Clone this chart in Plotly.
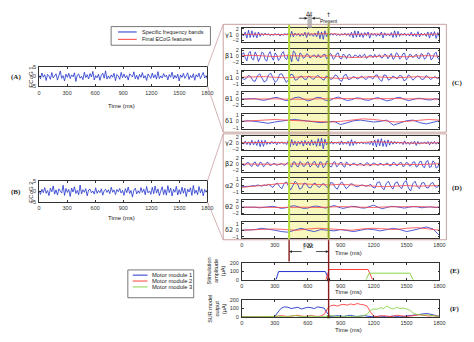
import numpy as np
import plotly.graph_objects as go

W, H = 474, 342
T_END = 1800
TIME_TICKS = [0, 300, 600, 900, 1200, 1500, 1800]

# ---------------- raw ECoG channels (uV) ----------------
ecog1 = [0.5,-1.2,1.8,-0.4,0.9,-2.1,1.1,0.3,-1.5,2.0,-0.8,0.6,1.4,-1.9,0.2,2.8,-1.0,0.4,-2.3,1.2,
         -0.5,1.6,-1.1,0.8,-0.2,1.9,-2.6,0.7,1.3,-0.9,0.1,-1.7,2.2,-0.6,0.9,-1.3,1.5,-0.3,2.6,-1.8,
         0.4,-0.7,1.2,-2.0,0.6,1.7,-0.9,2.9,-1.4,0.3,-1.1,0.8,-0.4,1.6,-2.2,1.0,0.2,-1.5,2.1,-0.6,
         1.3,-0.8,0.5,-1.9,1.4,0.7,-0.3,2.4,-1.2,0.6,-1.6,1.1,-0.5,2.0,-0.9,0.4,-2.1,1.3,0.2,-1.0,
         1.8,-0.7,0.9,-1.4,2.5,-1.1,0.3,-0.8,1.5,-0.2,0.7,-1.8,1.0,-0.4,2.2,-1.3,0.6,-0.9,1.2,-2.4,
         0.8,-0.5,1.6,-1.0,0.3,1.9,-1.6,0.5,-0.7,1.4,-2.0,0.9,-0.3,1.7,-1.2,0.6,2.1,-0.8,0.4,-1.5]
ecog2 = [0.3,-1.4,1.0,-0.6,1.8,-0.9,0.4,-2.0,1.5,-0.2,2.6,-1.3,0.7,-1.7,1.2,0.1,-0.8,2.9,-1.9,1.4,
         -0.5,0.9,-2.4,1.6,-0.3,2.2,-1.0,0.5,-1.6,3.0,-1.2,0.8,-0.4,1.3,-2.1,0.6,1.1,-0.7,0.2,-1.3,
         1.7,-0.9,0.4,-0.6,1.2,-1.8,0.3,1.0,-0.5,0.8,-1.1,2.0,-0.4,0.7,-1.5,0.9,-0.2,1.4,-0.8,0.5,
         -1.9,1.3,-0.6,2.1,-1.0,0.4,-2.7,0.6,1.5,-1.2,0.3,-0.9,1.8,-0.5,1.1,-1.6,2.3,-0.7,0.2,-1.4,
         1.9,-1.1,2.5,-0.8,1.2,-2.0,0.7,2.2,-1.5,0.9,-1.8,2.7,-0.6,1.6,-2.2,1.0,-0.4,2.4,-1.7,0.8,
         -1.3,2.0,-0.9,1.5,-2.5,1.1,-0.3,1.7,-1.9,2.8,-1.0,0.6,-1.6,2.3,-0.7,1.2,-2.1,0.9,-0.4,1.0]

# ---------------- channel 1 frequency bands ----------------
gamma1 = [0.3,-0.5,0.8,-1.2,1.5,-1.0,1.3,-0.9,0.7,-1.1, 0.9,-0.6,0.4,-0.3,0.5,-0.2,0.3,-0.4,0.2,-0.3,
          0.4,-0.2,0.3,-0.5,0.2,-0.3,0.4,-0.2,0.6,-0.9, 1.1,-0.8,0.5,-0.3,0.4,-0.6,0.3,-0.5,0.8,-1.0,
          0.7,-0.4,0.3,-0.6,0.5,-0.8,1.2,-1.4,0.9,-1.6, 1.3,-0.7,0.4,-0.2,0.3,-0.2,0.4,-0.3,0.2,-0.4,
          0.3,-0.2,0.5,-0.3,0.4,-0.6,0.8,-1.1,1.3,-0.9, 1.2,-0.8,0.6,-1.0,0.7,-0.4,0.9,-1.2,0.5,-0.3,
          0.4,-0.6,0.3,-0.5,0.9,-1.1,0.6,-0.4,0.3,-0.5, 0.7,-1.0,1.3,-0.9,1.1,-0.6,0.4,-0.3,0.5,-0.4,
          0.3,-0.5,0.8,-0.6,0.4,-0.7,1.0,-0.8,0.5,-0.3, 0.4,-0.6,0.9,-1.2,0.8,-0.5,1.0,-1.3,0.7,-0.9]
beta1 = [0.5,1.2,-0.4,-1.5,0.9,1.6,-0.8,-1.2,1.4,0.3, -1.7,-0.5,1.3,1.0,-1.1,-1.6,0.6,1.5,-0.3,-1.3,
         1.1,0.4,-1.4,-0.7,0.9,1.5,-0.6,-1.1,0.8,0.2, -1.8,1.7,1.2,-0.9,-1.6,1.1,0.6,-0.7,-0.3,0.8,
         0.5,-0.6,-0.2,0.4,0.3,-0.5,0.6,-0.4,-0.3,0.5, 0.7,-0.8,-0.4,0.9,0.6,-1.0,-0.5,0.8,1.1,-0.6,
         -0.9,0.7,0.3,-0.8,0.4,0.6,-0.5,-0.3,0.4,0.2, -0.3,0.5,-0.4,0.3,0.6,-0.7,-0.2,0.4,0.3,-0.5,
         0.6,-0.4,0.2,0.5,-0.6,-0.3,0.7,0.4,-0.8,0.3, 0.9,-1.0,-0.6,1.1,0.7,-0.9,-0.4,0.8,1.0,-1.2,
         -0.7,0.6,0.4,-0.5,0.3,0.7,-0.6,-0.8,0.9,0.5, -1.0,-0.4,1.1,0.8,-1.2,-0.6,0.9,1.3,-0.7,-1.1]
alpha1 = [0.0,-0.3,-0.1,0.4,0.2,-0.5,-0.6,0.3,0.7,0.1, -0.7,-0.5,0.5,0.8,0.0,-0.8,-0.4,0.6,0.7,-0.2,
          -0.8,-0.3,0.6,0.5,-0.4,-0.3,0.2,0.3,-0.2,-0.3, 0.3,0.1,-0.3,0.0,0.4,0.2,-0.2,-0.4,0.3,0.2,
          -0.3,-0.1,0.5,0.3,-0.4,-0.6,0.4,0.6,-0.3,-0.2, 0.2,0.1,-0.2,0.0,0.3,-0.1,-0.3,0.2,0.1,-0.2,
          0.4,0.5,-0.3,-0.6,0.5,0.4,-0.4,-0.2,0.3,0.1, -0.2,0.4,0.3,-0.5,-0.3,0.5,0.2,-0.4,-0.1,0.3,
          0.2,-0.3,-0.2,0.4,0.1,-0.3,0.0,0.2,-0.1,0.0]
theta1 = [0.0,0.1,0.3,0.2,-0.2,-0.4,-0.1,0.4,0.6,0.1,-0.5,-0.3,0.5,0.7,0.0,-0.6,-0.2,0.6,0.5,-0.4,
          -0.5,0.3,0.7,0.0,-0.5,-0.2,0.4,0.3,-0.3,-0.4,0.2,0.5,0.0,-0.6,-0.3,0.4,0.6,-0.1,-0.5,0.0,
          0.3,0.2,-0.2,-0.3,0.1,0.0]
delta1 = [0.0,0.1,0.0,-0.1,-0.3,-0.1,0.1,0.2,0.3,0.2,0.1,-0.1,-0.2,-0.1,0.0,-0.5,
          -0.2,0.1,0.2,0.1,-0.1,0.0,0.2,-0.6,-0.3,0.1,0.2,-0.2,-0.4,-0.1,0.1]

gamma1_feat = [0.1,0.2,0.1,0.0,0.1,0.2,0.1,0.2,0.3,0.1,0.0,0.1,0.2,0.1,0.2,0.1,0.0,0.1,0.2]
beta1_feat = [0.2,0.3,0.1,-0.1,0.2,0.1,-0.1,0.0,0.2,-0.2,-0.4,-0.3,-0.1,0.1,0.0,-0.2,0.1,0.2,0.0]
alpha1_feat = [0.1,0.2,0.2,0.1,0.0,0.1,0.2,0.1,0.0,-0.1,0.0,0.1,0.2,0.1,0.0,0.1,0.2,0.1,0.0]
theta1_feat = [0.0,0.1,0.2,0.1,0.0,-0.1,0.0,0.1,0.2,0.3,0.2,0.1,0.2,0.3,0.2,0.1,0.2,0.1,0.0]
delta1_feat = [0.0,0.1,0.2,0.3,0.2,0.1,0.1,0.0,-0.1,0.0,0.2,0.4,0.3,0.1,-0.1,0.0,0.2,0.3,0.2]

# ---------------- channel 2 frequency bands ----------------
gamma2 = [0.3,-0.4,0.6,-0.5,0.4,-0.7,0.9,-0.6,0.5,-0.8, 1.0,-1.2,0.8,-1.1,0.9,-0.5,0.3,-0.4,0.5,-0.3,
          0.4,-0.6,0.3,-0.2,0.4,-0.3,0.2,-0.5,0.9,-1.3, 1.1,-0.7,0.6,-0.9,0.5,-0.4,0.7,-1.0,0.8,-0.6,
          0.5,-0.8,1.0,-0.7,0.6,-1.1,1.4,-1.0,1.6,-1.9, 1.2,-0.6,0.4,-0.3,0.5,-0.4,0.3,-0.2,0.4,-0.6,
          0.7,-0.5,0.3,-0.4,0.6,-0.9,1.1,-0.8,0.6,-0.4, 0.3,-0.2,0.4,-0.3,0.2,-0.4,0.3,-0.5,0.6,-0.8,
          1.0,-1.3,1.2,-0.9,1.4,-1.1,0.8,-1.2,1.0,-0.7, 0.6,-0.4,0.5,-0.3,0.4,-0.2,0.3,-0.5,0.7,-0.4,
          0.3,-0.5,0.4,-0.3,0.6,-0.8,0.5,-0.4,0.3,-0.2, 0.4,-0.3,0.5,-0.6,0.4,-0.3,0.5,-0.4,0.3,-0.2]
beta2 = [0.3,-0.4,-0.2,0.5,0.6,-0.3,-0.7,0.4,0.8,-0.5, -0.6,0.7,0.4,-0.8,-0.3,0.6,0.5,-0.4,-0.2,0.3,
         0.2,-0.3,-0.1,0.2,0.3,-0.2,-0.3,0.4,0.6,-0.5, -0.9,0.8,0.7,-0.6,-0.8,0.9,0.4,-0.7,-0.5,0.6,
         0.8,-0.9,-0.4,0.7,0.9,-0.6,-1.0,0.8,0.6,-1.1, -0.5,0.9,1.0,-0.7,-0.8,0.6,0.9,-0.8,-0.4,0.5,
         0.7,-0.6,-0.9,0.8,0.3,-0.5,-0.2,0.4,0.3,-0.3, -0.2,0.3,0.2,-0.4,-0.3,0.5,0.4,-0.5,-0.3,0.4,
         0.3,-0.2,-0.4,0.3,0.2,-0.3,-0.2,0.4,0.3,-0.5, -0.4,0.6,0.5,-0.4,-0.3,0.5,0.6,-0.7,-0.5,0.6,
         0.4,-0.6,-0.3,0.7,0.8,-0.9,-0.6,0.8,1.0,-0.7, -1.1,0.9,1.2,-1.0,-0.8,1.1,0.7,-1.2,-0.9,0.8]
alpha2 = [-0.2,-0.2,-0.1,-0.2,-0.1,0.0,-0.1,0.1,0.0,-0.1, 0.1,0.0,0.2,-0.1,-0.3,0.2,0.4,-0.2,-0.5,0.3,
          0.6,-0.1,-0.7,0.0,0.7,0.3,-0.6,-0.4,0.4,0.3, -0.3,-0.4,0.2,0.4,-0.1,-0.3,0.2,0.3,-0.2,-0.4,
          0.5,0.4,-0.3,-0.6,0.2,0.6,0.1,-0.5,-0.2,0.3, 0.2,-0.1,-0.2,0.0,0.1,0.0,-0.1,0.0,0.2,-0.3,
          -0.4,0.5,0.6,-0.3,-0.7,0.3,0.7,-0.1,-0.6,0.4, 0.6,-0.2,-0.5,0.5,0.8,-0.4,-0.9,0.3,0.7,-0.2,
          -0.5,0.4,0.5,-0.3,-0.4,0.3,0.5,-0.2,-0.3,0.2]
theta2 = [0.0,0.0,0.1,0.0,-0.2,0.0,0.2,0.3,0.0,-0.4,-0.2,0.3,0.5,0.1,-0.4,-0.3,0.2,0.4,0.0,-0.3,
          0.1,0.6,0.0,-0.4,-0.1,0.3,0.2,-0.2,-0.3,0.2,0.7,0.0,-0.5,-0.1,0.3,0.2,-0.1,-0.3,0.0,0.2,
          0.1,-0.2,0.0,0.1,-0.1,0.0]
delta2 = [0.0,0.0,0.1,0.3,0.2,0.0,-0.2,-0.3,0.0,0.3,0.0,-0.2,0.1,0.0,-0.1,0.1,
          0.0,-0.2,0.0,0.2,0.1,-0.1,0.1,0.3,0.1,-0.2,0.0,0.3,0.5,0.2,-0.8]

gamma2_feat = [0.1,0.2,0.1,0.2,0.1,0.0,0.1,0.2,0.1,0.0,0.1,0.2,0.4,0.3,0.1,0.0,-0.1,0.0,0.1]
beta2_feat = [0.1,0.0,-0.1,0.0,0.1,0.2,0.1,0.0,0.2,0.1,-0.1,-0.2,-0.1,0.0,0.1,0.0,-0.1,0.1,0.2]
alpha2_feat = [-0.3,-0.1,0.1,0.3,0.4,0.3,0.2,0.1,0.1,0.2,0.1,0.0,-0.1,-0.2,-0.1,0.0,-0.1,-0.1,0.0]
theta2_feat = [0.0,0.1,0.0,-0.1,0.0,0.1,0.0,-0.1,0.1,0.2,0.1,0.0,-0.1,0.1,0.2,0.3,0.2,0.1,0.0]
delta2_feat = [0.0,0.1,0.2,0.2,0.1,0.0,0.2,0.3,0.2,0.1,0.0,0.2,0.3,0.2,0.1,0.3,0.4,0.2,0.0]

# ---------------- stimulation amplitude per motor module (uA) ----------------
stim1_t = [310, 335, 760, 795]
stim1 = [0, 100, 100, 0]
stim2_t = [765, 795, 1150, 1190]
stim2 = [0, 125, 125, 0]
stim3_t = [1130, 1160, 1530, 1560]
stim3 = [0, 80, 80, 0]

# ---------------- SUR model output per motor module (uA), 30 ms steps ----------------
sur1 = [0,0,0,0,0,0,0,0,0,0,
        5,60,105,120,115,100,110,115,95,105,115,110,100,120,110,105,40,5,10,15,
        10,5,15,20,10,5,10,15,10,5,0,5,10,5,0,5,10,5,0,5,
        10,15,20,25,30,35,40,35,25,15,5]
sur2 = [0,0,0,0,0,0,0,0,0,0,5,10,15,10,5,10,15,20,10,5,10,15,10,5,10,
        30,100,135,140,130,145,150,140,155,145,160,150,145,130,60,10,
        5,10,15,10,5,10,20,15,10,5,10,15,20,25,20,15,10,15,10,5]
sur3 = [0,0,0,0,0,0,0,0,0,0,5,10,5,0,5,10,15,10,5,0,5,10,5,0,0,5,10,15,10,5,0,5,10,5,0,5,10,15,
        30,80,95,90,110,100,130,105,95,115,100,105,95,80,45,30,25,20,25,20,15,10,5]

delta_t_start = 430     # start of the feature window (ms)
present_t = 790         # "present" time (ms)

BAND_NAMES_1 = ["\u03b31", "\u03b21", "\u03b11", "\u03b81", "\u03b41"]
BAND_NAMES_2 = ["\u03b32", "\u03b22", "\u03b12", "\u03b82", "\u03b42"]

BLUE = "#2233cc"
RED = "#ff4040"
GREEN = "#88d448"
FRAME_PINK = "#c9a0a0"
DARK_RED = "#8a1c1c"


def fx(px):
    return px / W


def fy(py):
    return 1 - py / H


def t_axis(values, t_end=T_END):
    return np.linspace(0, t_end, len(values))


AX = dict(showline=True, linecolor="#333", linewidth=0.8, mirror="ticks", ticks="inside",
          ticklen=2, tickwidth=0.7, tickcolor="#333", showgrid=False, zeroline=False,
          tickfont=dict(family="Liberation Sans", size=5.5, color="#333"), fixedrange=True)

fig = go.Figure()
layout = {}
counter = [0]


def add_axes(x0, x1, y0, y1, yr, ytv, xlabels=True):
    counter[0] += 1
    n = counter[0]
    s = "" if n == 1 else str(n)
    layout["xaxis" + s] = dict(AX, domain=[fx(x0), fx(x1)], range=[0, T_END], anchor="y" + s,
                               tickvals=TIME_TICKS, showticklabels=xlabels, ticklabelstandoff=1)
    layout["yaxis" + s] = dict(AX, domain=[fy(y1), fy(y0)], range=yr, anchor="x" + s,
                               tickvals=ytv, ticklabelstandoff=1)
    return "x" + s, "y" + s


def line(xa, ya, x, y, color, width=0.8):
    fig.add_trace(go.Scatter(x=x, y=y, xaxis=xa, yaxis=ya, mode="lines",
                             line=dict(color=color, width=width), showlegend=False,
                             hoverinfo="skip"))


annotations = []
shapes = []


def text(x, y, s, size=6, family="Liberation Sans", angle=0, anchor="center", **kw):
    annotations.append(dict(x=fx(x), y=fy(y), xref="paper", yref="paper", text=s,
                            showarrow=False, textangle=angle, xanchor=anchor, yanchor="middle",
                            font=dict(family=family, size=size, color="#222"), **kw))


# ---- panels A and B: raw ECoG ----
xa, ya = add_axes(37.7, 209, 65, 84.5, [-5, 5], [-5, 0, 5])
line(xa, ya, t_axis(ecog1), ecog1, BLUE)
xb, yb = add_axes(37.7, 209, 181, 202.5, [-5, 5], [-5, 0, 5])
line(xb, yb, t_axis(ecog2), ecog2, BLUE)
text(122, 105, "Time (ms)", 6)
text(122, 219, "Time (ms)", 6)
text(29.5, 75, "ECoG 1", 6, angle=-90)
text(29.5, 192, "ECoG 2", 6, angle=-90)
text(14, 75, "<b>(A)</b>", 7, family="Liberation Serif")
text(14, 192, "<b>(B)</b>", 7, family="Liberation Serif")

# ---- panels C and D: band-filtered signals and features ----
C_ROWS = [(25, 39.3), (46.7, 61.7), (69, 83.3), (90.7, 105), (112.7, 128.3)]
D_ROWS = [(135, 150), (156.7, 171.7), (178.3, 193.3), (200.7, 215), (223.3, 239.3)]
ranges = [([-2.4, 2.4], [-2, 0, 2]), ([-2.4, 2.4], [-2, 0, 2]), ([-1.2, 1.2], [-1, 0, 1]),
          ([-2.4, 2.4], [-2, 0, 2]), ([-1.2, 1.2], [-1, 0, 1])]
bands1 = [(gamma1, gamma1_feat), (beta1, beta1_feat), (alpha1, alpha1_feat),
          (theta1, theta1_feat), (delta1, delta1_feat)]
bands2 = [(gamma2, gamma2_feat), (beta2, beta2_feat), (alpha2, alpha2_feat),
          (theta2, theta2_feat), (delta2, delta2_feat)]

for rows, bands, names in ((C_ROWS, bands1, BAND_NAMES_1), (D_ROWS, bands2, BAND_NAMES_2)):
    for i, ((y0, y1), (sig, feat), name, (yr, tv)) in enumerate(zip(rows, bands, names, ranges)):
        last = rows is D_ROWS and i == 4
        x_, y_ = add_axes(244, 445, y0, y1, yr, tv, xlabels=last)
        line(x_, y_, t_axis(sig), sig, BLUE, 0.8)
        line(x_, y_, t_axis(feat), feat, RED, 0.8)
        text(231, (y0 + y1) / 2, name, 6.5, family="DejaVu Sans")
text(352, 254.5, "Time (ms)", 6)
text(463, 81, "<b>(C)</b>", 7, family="Liberation Serif")
text(463, 188, "<b>(D)</b>", 7, family="Liberation Serif")

# ---- panel E: stimulation amplitude ----
xe, ye = add_axes(244, 445, 265, 281.7, [0, 200], [0, 100, 200])
line(xe, ye, stim1_t, stim1, BLUE, 1)
line(xe, ye, stim2_t, stim2, RED, 1)
line(xe, ye, stim3_t, stim3, GREEN, 1)
fig.add_trace(go.Scatter(x=[present_t], y=[0], xaxis=xe, yaxis=ye, mode="markers",
                         marker=dict(color="#111", size=3, symbol="square"),
                         showlegend=False, hoverinfo="skip", cliponaxis=False))
text(352, 294, "Time (ms)", 6)
text(218, 273, "Stimulation<br>amplitude<br>(\u03bcA)", 5.5, angle=-90)
text(461, 273, "<b>(E)</b>", 7, family="Liberation Serif")

# ---- panel F: SUR model output ----
xf, yf = add_axes(244, 445, 302.5, 319.5, [0, 200], [0, 100, 200])
t_sur = t_axis(sur1)
line(xf, yf, t_sur, sur1, BLUE, 0.9)
line(xf, yf, t_sur, sur2, RED, 0.9)
line(xf, yf, t_sur, sur3, GREEN, 0.9)
fig.add_trace(go.Scatter(x=[present_t], y=[0], xaxis=xf, yaxis=yf, mode="markers",
                         marker=dict(color="#3a8a20", size=3, symbol="square"),
                         showlegend=False, hoverinfo="skip", cliponaxis=False))
text(352, 332.5, "Time (ms)", 6)
text(218, 311, "SUR model<br>output<br>(\u03bcA)", 5.5, angle=-90)
text(461, 311, "<b>(F)</b>", 7, family="Liberation Serif")

# ---- feature window and present marker (data x, paper y) ----
shapes.append(dict(type="rect", xref=xe, yref="paper", x0=delta_t_start, x1=present_t,
                   y0=fy(240), y1=fy(23), fillcolor="rgba(238,238,110,0.45)",
                   line=dict(width=0), layer="below"))
shapes.append(dict(type="line", xref=xe, yref="paper", x0=delta_t_start, x1=delta_t_start,
                   y0=fy(240.5), y1=fy(21.7), line=dict(color="#b4dc3a", width=2)))
shapes.append(dict(type="line", xref=xe, yref="paper", x0=present_t, x1=present_t,
                   y0=fy(240.5), y1=fy(20), line=dict(color="#90aa28", width=2)))
shapes.append(dict(type="line", xref=xe, yref="paper", x0=delta_t_start, x1=delta_t_start,
                   y0=fy(263), y1=fy(240.5), line=dict(color=DARK_RED, width=1.4)))
shapes.append(dict(type="line", xref=xe, yref="paper", x0=present_t, x1=present_t,
                   y0=fy(320), y1=fy(240.5), line=dict(color=DARK_RED, width=1.4)))

# small delta-t sketch above panel C
shapes.append(dict(type="rect", xref=xe, yref="paper", x0=597, x1=638, y0=fy(25), y1=fy(12),
                   fillcolor="#b8b8b8", line=dict(width=0)))
for xt, off in ((597, -10), (638, 10)):
    annotations.append(dict(x=xt, y=fy(15.5), xref=xe, yref="paper", ax=off, ay=0, text="",
                            showarrow=True, arrowhead=2, arrowsize=0.7, arrowwidth=0.8,
                            arrowcolor="#222"))
annotations.append(dict(x=617, y=fy(5.5), xref=xe, yref="paper", text="\u0394t", showarrow=False,
                        font=dict(family="DejaVu Sans", size=6, color="#222")))
annotations.append(dict(x=present_t, y=fy(6), xref=xe, yref="paper", text="\u2191",
                        showarrow=False, font=dict(family="DejaVu Sans", size=6, color="#222")))
annotations.append(dict(x=present_t, y=fy(13), xref=xe, yref="paper", text="Present",
                        showarrow=False, font=dict(family="Liberation Sans", size=5, color="#222")))

# window-length arrow below panel D
for xt, off in ((delta_t_start, 14), (present_t, -14)):
    annotations.append(dict(x=xt, y=fy(253), xref=xe, yref="paper", ax=off, ay=0, text="",
                            showarrow=True, arrowhead=2, arrowsize=0.7, arrowwidth=0.8,
                            arrowcolor="#222"))
annotations.append(dict(x=(delta_t_start + present_t) / 2, y=fy(253), xref=xe, yref="paper",
                        text="| \u0394t", showarrow=False,
                        font=dict(family="DejaVu Sans", size=6, color="#222")))

# ---- zoom frames and connector lines ----
shapes.append(dict(type="rect", xref="paper", yref="paper", x0=fx(225), x1=fx(452),
                   y0=fy(131.5), y1=fy(21.7), line=dict(color=FRAME_PINK, width=1)))
shapes.append(dict(type="rect", xref="paper", yref="paper", x0=fx(225), x1=fx(452),
                   y0=fy(241), y1=fy(133.2), line=dict(color=FRAME_PINK, width=1)))
for (x0, y0, x1, y1) in ((209, 65, 225, 21.7), (209, 84.5, 225, 131.5),
                         (209, 181, 225, 133.2), (209, 202.5, 225, 241)):
    shapes.append(dict(type="line", xref="paper", yref="paper", x0=fx(x0), y0=fy(y0),
                       x1=fx(x1), y1=fy(y1), line=dict(color=FRAME_PINK, width=0.8)))

# ---- legends drawn as boxes ----
shapes.append(dict(type="rect", xref="paper", yref="paper", x0=fx(111), x1=fx(212),
                   y0=fy(43), y1=fy(24), line=dict(color="#555", width=0.8), fillcolor="white"))
for yy, col, lab in ((29.5, BLUE, "Specific frequency bands"), (37, RED, "Final ECoG features")):
    shapes.append(dict(type="line", xref="paper", yref="paper", x0=fx(118), x1=fx(137),
                       y0=fy(yy), y1=fy(yy), line=dict(color=col, width=1)))
    text(140, yy, lab, 5.5, anchor="left")

shapes.append(dict(type="rect", xref="paper", yref="paper", x0=fx(128), x1=fx(195),
                   y0=fy(300), y1=fy(271.7), line=dict(color="#555", width=0.8), fillcolor="white"))
for yy, col, lab in ((277, BLUE, "Motor module 1"), (283, RED, "Motor module 2"),
                     (289, GREEN, "Motor module 3")):
    shapes.append(dict(type="line", xref="paper", yref="paper", x0=fx(133), x1=fx(148),
                       y0=fy(yy), y1=fy(yy), line=dict(color=col, width=1)))
    text(151, yy, lab, 5.8, anchor="left")

fig.update_layout(**layout)
fig.update_layout(width=W, height=H, margin=dict(l=0, r=0, t=0, b=0),
                  paper_bgcolor="white", plot_bgcolor="rgba(0,0,0,0)", showlegend=False,
                  shapes=shapes, annotations=annotations)
fig.write_html("out.html", config={"displayModeBar": False})
